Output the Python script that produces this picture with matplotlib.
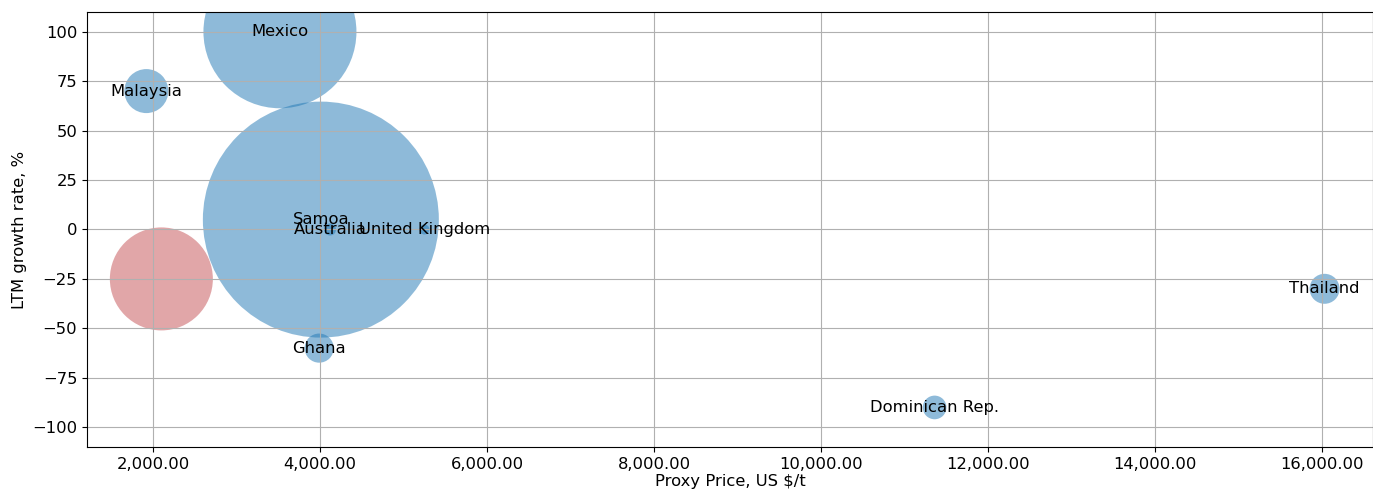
import matplotlib
matplotlib.use("Agg")
import matplotlib.pyplot as plt
from matplotlib.ticker import StrMethodFormatter

countries = ['Mexico', 'Malaysia', 'Samoa', 'Australia', 'United Kingdom',
             'Ghana', 'Dominican Rep.', 'Thailand', '']
proxy_price = [3520, 1920, 4010, 4120, 5250, 3990, 11360, 16030, 2100]
growth_rate = [100, 70, 5, 0, 0, -60, -90, -30, -25]
bubble_size = [12135, 1004, 28870, 75, 52, 440, 290, 466, 5500]
colors = ['#1f77b4'] * 8 + ['#c44e52']

plt.rcParams['font.size'] = 11.8

fig = plt.figure(figsize=(13.73, 4.90), dpi=100)
ax = fig.add_axes([0.0634, 0.0878, 0.9366, 0.8877])

# bubbles sit under the grid, like the default scatter zorder
ax.scatter(proxy_price, growth_rate, s=bubble_size, c=colors, alpha=0.5,
           linewidths=0)
for name, x, y in zip(countries, proxy_price, growth_rate):
    if name:
        ax.text(x, y, name, ha='center', va='center')

ax.set_xlim(1210, 16610)
ax.set_ylim(-110, 110)
ax.set_xticks(range(2000, 16001, 2000))
ax.set_yticks(range(-100, 101, 25))
ax.xaxis.set_major_formatter(StrMethodFormatter('{x:,.2f}'))
ax.set_xlabel('Proxy Price, US $/t', labelpad=1.5)
ax.set_ylabel('LTM growth rate, %')
ax.grid(True)

fig.savefig('out.png', dpi=100)
